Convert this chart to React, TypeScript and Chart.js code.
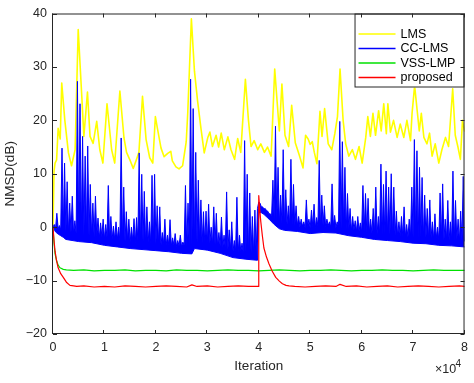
import { useEffect, useRef } from "react";
import { Chart, registerables } from "chart.js";

Chart.register(...registerables);

// ---------- data ----------
const xTickValues = [0, 10000, 20000, 30000, 40000, 50000, 60000, 70000, 80000];
const xTickLabels = ["0", "1", "2", "3", "4", "5", "6", "7", "8"];
const yTickValues = [-20, -10, 0, 10, 20, 30, 40];
const yTickLabels = ["\u221220", "\u221210", "0", "10", "20", "30", "40"];

const seriesNames = ["LMS", "CC-LMS", "VSS-LMP", "proposed"];
const seriesColors = ["#FFFF00", "#0000FF", "#00E000", "#FF0000"];

// LMS: [iteration, NMSD dB]
const lmsPoints: [number, number][] = [
  [0, 0], [200, 10.5], [400, 12], [700, 12.6], [1000, 18.5], [1400, 16.5], [1700, 27], [2300, 20],
  [3000, 13.9], [3600, 11.5], [4300, 14.5], [4900, 37], [5600, 24.4], [6000, 17], [6700, 25.3],
  [7200, 17], [7800, 15.7], [8500, 19.8], [9100, 14.5], [9700, 12], [10500, 23.1], [11400, 14.5],
  [12000, 12], [13000, 25.5], [13800, 16.7], [14300, 14], [14900, 12.7], [15600, 11], [16200, 12.6],
  [16700, 14], [17400, 24.5], [18100, 16.4], [18800, 13], [19400, 12], [19900, 20.7], [20300, 18.5],
  [21000, 14.8], [21600, 13.2], [22300, 13.8], [22900, 14.2], [23200, 12.4], [23900, 11.3],
  [24500, 10.9], [25200, 11.5], [25900, 16], [26200, 21.5], [26900, 39], [27500, 29.2], [28100, 23.7],
  [28800, 18.2], [29400, 13.9], [30100, 16.8], [30500, 17.8], [31000, 15.1], [31700, 17.2],
  [32200, 15], [32700, 17.6], [33300, 14.5], [34000, 16.9], [34600, 14.5], [35300, 12.7],
  [35900, 16.6], [36500, 14], [37400, 27.7], [38000, 20], [38500, 15.1], [39100, 16.2], [39800, 14.5],
  [40400, 15.6], [41100, 14], [41700, 15], [42400, 13.3], [42700, 20], [43100, 29.6], [43600, 23.1],
  [44000, 18], [44500, 26.8], [45100, 17.2], [45800, 15.1], [46400, 22.8], [47100, 15.8],
  [47900, 13.4], [48600, 11.1], [49100, 17.2], [49600, 16.5], [50000, 15.5], [50400, 16], [50800, 14],
  [51300, 11.9], [51900, 21.7], [52300, 17], [52800, 22.2], [53500, 15.6], [54200, 14.5],
  [54800, 17.6], [55300, 20.7], [55800, 29.6], [56400, 20], [56900, 15.6], [57500, 13.3],
  [58200, 14.5], [58800, 12.7], [59500, 15.1], [60100, 12], [60800, 16.8], [61200, 20.7], [61700, 17],
  [62200, 21.3], [62700, 17.2], [63300, 21.8], [63800, 18], [64300, 23.1], [64800, 17.5],
  [65100, 23.1], [65600, 17.8], [66200, 20], [66900, 16.8], [67500, 19.3], [68200, 16.8], [68800, 20],
  [69500, 16.2], [69800, 21.3], [70300, 26.5], [70800, 21.8], [71200, 18], [71600, 21.3],
  [72100, 16.8], [72700, 15.6], [73200, 17.6], [73700, 13.3], [74300, 15.6], [75000, 12],
  [75600, 14.5], [76300, 16.8], [76900, 15.1], [77700, 25.9], [78200, 17.2], [78700, 15.1],
  [79200, 12.7], [79600, 20], [80000, 18],
];

// CC-LMS: one value every ccLmsStep iterations
const ccLmsStep = 250;
const ccLmsValues = [
  0, 0.5, -0.2, 2.6, -0.3, 0.3, -0.5, 14.8, -0.7, 12,
  -1.0, 8.5, -1.1, 4.5, -1.0, 5.8, -1.3, 1.2, -1.2, 27.3,
  -1.5, 23.1, -1.2, 17, -1.6, 13.3, -1.3, 15.2, -1.7, 8,
  -1.6, 4.5, -1.9, 5.8, -1.6, 1.7, -2.1, 0.8, -1.8, 1.5,
  -2.2, 0.5, -1.9, 7.8, -2.3, 2.0, -2.2, 0.2, -2.3, 1,
  -2.3, 0, -2.6, 16.7, -2.3, 7.5, -2.7, 2.9, -2.4, 1.5,
  -2.8, 0, -2.5, 1.6, -2.9, 1.8, -2.6, 13.9, -3.0, 9.9,
  -2.7, 6.7, -3.0, 3.8, -2.9, 1.0, -3.1, 9.7, -3.0, 9.9,
  -3.2, 4, -3.0, 3.8, -3.3, -1, -3.1, 1.5, -3.4, -1.5,
  -3.3, 1.4, -3.5, -2, -3.4, -1.2, -3.6, -2.5, -3.5, -1.5,
  -3.7, -2.8, -3.4, 7.8, -3.7, 4.5, -3.6, 27.7, -3.4, 22.2,
  -2.7, 14, -2.9, 8.8, -2.7, 5.1, -3.0, 2.9, -2.8, 3,
  -3.1, 4.3, -3.0, 0, -3.3, 3.8, -3.2, 2.6, -3.6, -1,
  -3.6, 1.9, -3.9, -1.5, -3.9, 6.6, -4.2, -0.5, -4.2, 1,
  -4.5, -2.5, -4.4, 5.6, -4.7, -1.5, -4.5, -3, -4.8, 16.2,
  -4.6, 9.9, -4.9, 6.4, -4.7, 2, -5.0, 3.2, -4.8, 3.5,
  4.7, 4.5, 3.8, 3.8, 3.4, 3.5, 3.1, 3, 2.5, 2.5,
  2.2, 8.8, 1.5, 18.9, 1.2, 11.2, 0.7, 6, 0.8, 14.5,
  0.4, 7, 0.5, 4, 0.3, 12.7, 0.4, 8, 0.2, 4,
  0.3, 2, 0.1, 1.5, 0.2, 1.0, -0.1, 5.1, 0.1, 1.5,
  -0.2, 3.2, 0.1, 4.3, -0.1, 1.8, 0.2, 12.5, 0, 6,
  0.3, 4, 0.1, 1.5, 0.3, 1, 0, 8.1, 0.2, 2.2,
  -0.1, 1.0, 0, 19.8, -0.3, 16, -0.2, 11.2, -0.5, 6.3,
  -0.4, 3.5, -0.7, 2, -0.5, 1.2, -0.8, 2, -0.7, 0.8,
  -0.9, 7.8, -0.8, 6.3, -1.1, 5.4, -0.9, 1.5, -1.2, 3.5,
  -1.1, 7.5, -1.3, 2, -1.2, 11.8, -1.4, 8, -1.3, 10.5,
  -1.5, 7.5, -1.4, 10, -1.6, 7.5, -1.5, 3, -1.7, 1,
  -1.6, 2, -1.8, 3.8, -1.7, 0.5, -1.9, 1.5, -1.8, 7.5,
  -2.0, 16.4, -1.8, 14.3, -2.1, 11.2, -1.9, 9.3, -2.1, 6,
  -2.0, 3.5, -2.2, 5.1, -2.0, 1, -2.3, 2.5, -2.1, 0,
  -2.4, 6.4, -2.2, 8.1, -2.4, 1.5, -2.3, 5, -2.5, 1,
  -2.4, 10.5, -2.6, 5, -2.4, 1.5, -2.7, 3, -2.5, 9.5,
  -2.6,
];

// CC-LMS lower edge of its dense band: [iteration, NMSD dB]
const ccLmsFloor: [number, number][] = [
  [0, 0], [500, -0.9], [1000, -1.3], [1500, -1.6], [2000, -1.9], [2500, -2.3], [5000, -2.7],
  [7500, -2.9], [10000, -3.4], [12500, -3.7], [15000, -4.0], [17500, -4.2], [20000, -4.4],
  [22500, -4.6], [25000, -4.9], [27000, -5.0], [27500, -4.0], [30000, -4.3], [32500, -4.9],
  [35000, -5.7], [37500, -6.0], [39750, -6.2], [40000, 2.8], [40500, 2.7], [41000, 2.4],
  [42000, 1.5], [43000, 0.5], [44000, -0.3], [45000, -0.6], [47500, -0.8], [50000, -1.2],
  [52500, -1.0], [55000, -1.1], [57500, -1.6], [60000, -1.9], [62500, -2.3], [65000, -2.5],
  [67500, -2.7], [70000, -3.0], [72500, -3.1], [75000, -3.4], [77500, -3.5], [80000, -3.7],
];

// VSS-LMP: [iteration, NMSD dB]
const vssPoints: [number, number][] = [
  [0, 0], [200, -3], [400, -5], [700, -6.3], [1000, -7.1], [1350, -7.6], [2000, -7.9], [2600, -8.0],
  [4000, -8.1], [6000, -8.0], [8000, -8.2], [10000, -8.1], [12000, -8.1], [14000, -8.0],
  [16000, -8.2], [18000, -8.1], [20000, -8.1], [22000, -8.2], [24000, -8.0], [26000, -8.1],
  [28000, -8.1], [30000, -8.2], [32000, -8.1], [34000, -8.0], [36000, -8.1], [38000, -8.1],
  [40000, -8.2], [42000, -8.1], [44000, -8.0], [46000, -8.1], [48000, -8.2], [50000, -8.1],
  [52000, -8.1], [54000, -8.0], [56000, -8.1], [58000, -8.2], [60000, -8.1], [62000, -8.1],
  [64000, -8.0], [66000, -8.1], [68000, -8.1], [70000, -8.2], [72000, -8.1], [74000, -8.0],
  [76000, -8.1], [78000, -8.1], [80000, -8.1],
];

// proposed: [iteration, NMSD dB]
const proposedPoints: [number, number][] = [
  [0, 0], [200, -2.5], [400, -4.5], [700, -6.3], [1000, -7.6], [1500, -8.7], [2000, -9.4],
  [2600, -10.3], [3300, -10.9], [4000, -11.0], [4600, -11.1], [6000, -11.0], [8000, -11.2],
  [10000, -11.1], [12000, -11.2], [14000, -11.0], [16000, -11.1], [18000, -11.2], [20000, -11.1],
  [22000, -11.0], [24000, -11.1], [26000, -11.2], [27000, -10.8], [28000, -11.1], [30000, -11.0],
  [32000, -11.2], [34000, -11.1], [36000, -11.0], [38000, -11.1], [39900, -11.1], [40000, 5.9],
  [40200, 3.2], [40400, 1.0], [40700, -1.6], [41000, -3.9], [41500, -5.6], [42000, -6.9],
  [42600, -8.2], [43300, -9.4], [44000, -10.1], [44600, -10.6], [45300, -10.9], [45900, -11.0],
  [47000, -11.1], [49000, -11.2], [51000, -11.1], [53000, -11.0], [55000, -11.1], [55800, -10.7],
  [57000, -11.1], [59000, -11.0], [61000, -11.2], [63000, -11.1], [65000, -11.0], [67000, -11.2],
  [69000, -11.1], [71000, -11.0], [73000, -11.1], [75000, -11.2], [77000, -11.1], [79000, -11.0],
  [80000, -11.1],
];

// ---------- styling ----------
const FONT = '"Liberation Sans", Arial, Helvetica, sans-serif';
const AXIS_COLOR = "#262626";

const overlayPlugin = {
  id: "matlabOverlay",
  afterDraw(chart: any) {
    const ctx = chart.ctx as CanvasRenderingContext2D;
    const { left, right, top, bottom } = chart.chartArea;
    const xs = chart.scales.x;
    const ys = chart.scales.y;
    ctx.save();

    // legend (inside, top-right)
    const lw = 110;
    const lh = 74;
    const lx = right - lw;
    const ly = top;
    ctx.fillStyle = "#ffffff";
    ctx.fillRect(lx, ly, lw, lh);
    ctx.strokeStyle = AXIS_COLOR;
    ctx.lineWidth = 1;
    ctx.strokeRect(lx + 0.5, ly + 0.5, lw - 1, lh - 1);
    const rowY = [20.5, 35, 49.5, 64];
    ctx.font = `12.5px ${FONT}`;
    ctx.textBaseline = "middle";
    ctx.textAlign = "left";
    seriesNames.forEach((name, i) => {
      const y = ly + rowY[i];
      ctx.strokeStyle = seriesColors[i];
      ctx.lineWidth = 1.5;
      ctx.beginPath();
      ctx.moveTo(lx + 4, y);
      ctx.lineTo(lx + 41, y);
      ctx.stroke();
      ctx.fillStyle = "#000000";
      ctx.fillText(name, lx + 46, y + 0.5);
    });

    // axes box
    ctx.strokeStyle = AXIS_COLOR;
    ctx.lineWidth = 1;
    ctx.strokeRect(left - 0.5, top + 0.5, right - left, bottom - top - 1);

    // inward ticks on all sides
    const tl = 4;
    ctx.beginPath();
    xTickValues.forEach((v) => {
      const px = Math.round(xs.getPixelForValue(v)) - 0.5;
      ctx.moveTo(px, bottom);
      ctx.lineTo(px, bottom - tl);
      ctx.moveTo(px, top);
      ctx.lineTo(px, top + tl);
    });
    yTickValues.forEach((v) => {
      const py = Math.round(ys.getPixelForValue(v)) + 0.5;
      ctx.moveTo(left, py);
      ctx.lineTo(left + tl, py);
      ctx.moveTo(right, py);
      ctx.lineTo(right - tl, py);
    });
    ctx.stroke();

    // axis titles
    ctx.fillStyle = AXIS_COLOR;
    ctx.font = `13.5px ${FONT}`;
    ctx.textAlign = "center";
    ctx.textBaseline = "middle";
    ctx.fillText("Iteration", (left + right) / 2, bottom + 32);
    ctx.save();
    ctx.translate(10.5, (top + bottom) / 2);
    ctx.rotate(-Math.PI / 2);
    ctx.fillText("NMSD(dB)", 0, 0);
    ctx.restore();

    // exponent label
    ctx.textAlign = "left";
    ctx.textBaseline = "alphabetic";
    ctx.font = `12.5px ${FONT}`;
    ctx.fillText("\u00d710", right - 29.5, bottom + 39);
    ctx.font = `10px ${FONT}`;
    ctx.fillText("4", right - 9, bottom + 33);

    ctx.restore();
  },
};

export default function App() {
  const ref = useRef<HTMLCanvasElement>(null);

  useEffect(() => {
    document.body.style.margin = "0";
    document.body.style.overflow = "hidden";
    const canvas = ref.current;
    if (!canvas) return;

    const toXY = (pts: [number, number][]) => pts.map(([x, y]) => ({ x, y }));
    const ccLmsData = ccLmsValues.map((v, i) => ({ x: i * ccLmsStep, y: v }));

    const common = {
      pointRadius: 0,
      pointHoverRadius: 0,
      tension: 0,
      fill: false,
      borderJoinStyle: "round" as const,
      borderCapStyle: "round" as const,
    };

    const chart = new Chart(canvas, {
      type: "line",
      data: {
        datasets: [
          { ...common, label: seriesNames[0], data: toXY(lmsPoints), borderColor: seriesColors[0], borderWidth: 1.6, order: 5 },
          {
            ...common,
            label: seriesNames[1],
            data: ccLmsData,
            borderColor: seriesColors[1],
            backgroundColor: seriesColors[1],
            borderWidth: 1,
            fill: 4,
            order: 3,
          },
          { ...common, label: seriesNames[2], data: toXY(vssPoints), borderColor: seriesColors[2], borderWidth: 1.2, order: 2 },
          { ...common, label: seriesNames[3], data: toXY(proposedPoints), borderColor: seriesColors[3], borderWidth: 1.2, order: 1 },
          {
            ...common,
            label: "CC-LMS floor",
            data: toXY(ccLmsFloor),
            borderColor: seriesColors[1],
            borderWidth: 1,
            order: 4,
          },
        ],
      },
      options: {
        responsive: false,
        animation: false,
        events: [],
        devicePixelRatio: 1,
        layout: { padding: { top: 8, right: 8, left: 0, bottom: 0 } },
        plugins: {
          legend: { display: false },
          tooltip: { enabled: false },
          filler: { propagate: false },
        },
        scales: {
          x: {
            type: "linear",
            min: 0,
            max: 80000,
            afterFit: (s: any) => {
              s.height = 49;
            },
            afterBuildTicks: (s: any) => {
              s.ticks = xTickValues.map((v) => ({ value: v }));
            },
            ticks: {
              autoSkip: false,
              maxRotation: 0,
              padding: 6,
              color: AXIS_COLOR,
              font: { family: FONT, size: 12.5 },
              callback: (_v: any, i: number) => xTickLabels[i],
            },
            grid: { display: false, drawTicks: false },
            border: { display: false },
          },
          y: {
            type: "linear",
            min: -20,
            max: 40,
            afterFit: (s: any) => {
              s.width = 53;
            },
            afterBuildTicks: (s: any) => {
              s.ticks = yTickValues.map((v) => ({ value: v }));
            },
            ticks: {
              autoSkip: false,
              padding: 6,
              color: AXIS_COLOR,
              font: { family: FONT, size: 12.5 },
              callback: (_v: any, i: number) => yTickLabels[i],
            },
            grid: { display: false, drawTicks: false },
            border: { display: false },
          },
        },
      },
      plugins: [overlayPlugin],
    });

    return () => chart.destroy();
  }, []);

  return (
    <canvas
      ref={ref}
      width={474}
      height={383}
      style={{ display: "block", width: 474, height: 383 }}
    />
  );
}
